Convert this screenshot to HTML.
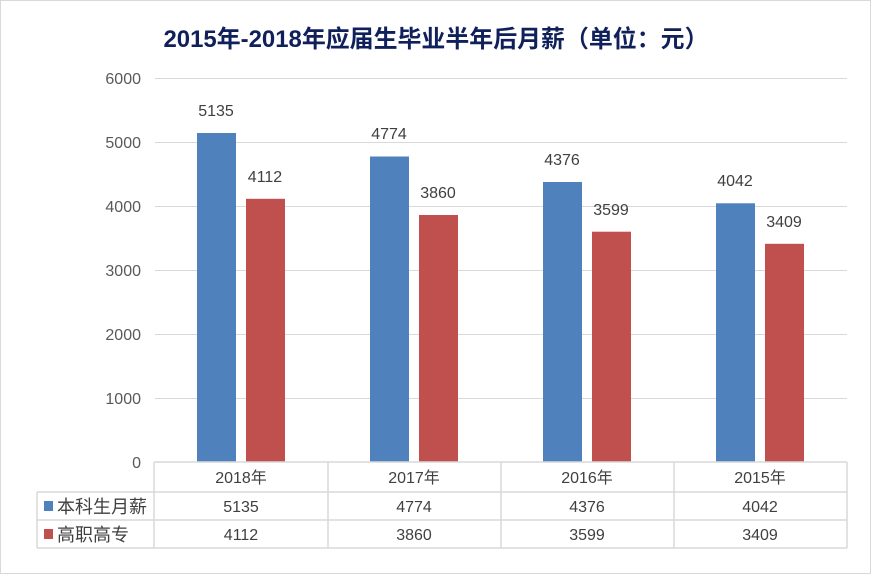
<!DOCTYPE html>
<html><head><meta charset="utf-8"><style>
html,body{margin:0;padding:0;background:#fff;}
svg{display:block;font-family:"Liberation Sans","Noto Sans CJK SC",sans-serif;}
</style></head><body>
<svg width="871" height="574" viewBox="0 0 871 574">
<rect x="0.5" y="0.5" width="870" height="573" fill="#fff" stroke="#d9d9d9"/>
<text x="436" y="47" text-anchor="middle" font-size="24" font-weight="bold" fill="#10205a" textLength="545" lengthAdjust="spacingAndGlyphs">2015年-2018年应届生毕业半年后月薪（单位：元）</text>
<g stroke="#d9d9d9" stroke-width="1">
<line x1="155" y1="78.5" x2="847" y2="78.5"/>
<line x1="155" y1="142.5" x2="847" y2="142.5"/>
<line x1="155" y1="206.5" x2="847" y2="206.5"/>
<line x1="155" y1="270.5" x2="847" y2="270.5"/>
<line x1="155" y1="334.5" x2="847" y2="334.5"/>
<line x1="155" y1="398.5" x2="847" y2="398.5"/>
</g>
<g font-size="16" fill="#595959" text-anchor="end">
<text x="141" y="84">6000</text><text x="141" y="148">5000</text><text x="141" y="212">4000</text>
<text x="141" y="276">3000</text><text x="141" y="340">2000</text><text x="141" y="404">1000</text><text x="141" y="468">0</text>
</g>
<g fill="#4f81bd">
<rect x="197" y="133" width="39" height="329"/>
<rect x="370" y="156.5" width="39" height="305.5"/>
<rect x="543" y="182" width="39" height="280"/>
<rect x="716" y="203.3" width="39" height="258.7"/>
</g>
<g fill="#c0504d">
<rect x="246" y="198.8" width="39" height="263.2"/>
<rect x="419" y="215" width="39" height="247"/>
<rect x="592" y="231.7" width="39" height="230.3"/>
<rect x="765" y="243.8" width="39" height="218.2"/>
</g>
<g font-size="16" fill="#404040" text-anchor="middle">
<text x="216" y="116">5135</text><text x="265" y="182">4112</text>
<text x="389" y="139">4774</text><text x="438" y="198">3860</text>
<text x="562" y="165">4376</text><text x="611" y="215">3599</text>
<text x="735" y="186">4042</text><text x="784" y="227">3409</text>
</g>
<g stroke="#d9d9d9" stroke-width="1.5" fill="none">
<line x1="154" y1="462" x2="847" y2="462"/>
<line x1="37" y1="492" x2="847" y2="492"/>
<line x1="37" y1="520" x2="847" y2="520"/>
<line x1="37" y1="548" x2="847" y2="548"/>
<line x1="37" y1="492" x2="37" y2="548"/>
<line x1="154" y1="462" x2="154" y2="548"/>
<line x1="328" y1="462" x2="328" y2="548"/>
<line x1="501" y1="462" x2="501" y2="548"/>
<line x1="674" y1="462" x2="674" y2="548"/>
<line x1="847" y1="462" x2="847" y2="548"/>
</g>
<g font-size="16" fill="#404040" text-anchor="middle">
<text x="241" y="483">2018年</text><text x="414" y="483">2017年</text><text x="587" y="483">2016年</text><text x="760" y="483">2015年</text>
<text x="241" y="512">5135</text><text x="414" y="512">4774</text><text x="587" y="512">4376</text><text x="760" y="512">4042</text>
<text x="241" y="540">4112</text><text x="414" y="540">3860</text><text x="587" y="540">3599</text><text x="760" y="540">3409</text>
</g>
<rect x="44" y="501" width="9" height="10" fill="#4f81bd"/>
<rect x="44" y="529" width="9" height="10" fill="#c0504d"/>
<g font-size="18" fill="#404040">
<text x="57" y="513">本科生月薪</text>
<text x="57" y="541">高职高专</text>
</g>
</svg>
</body></html>
